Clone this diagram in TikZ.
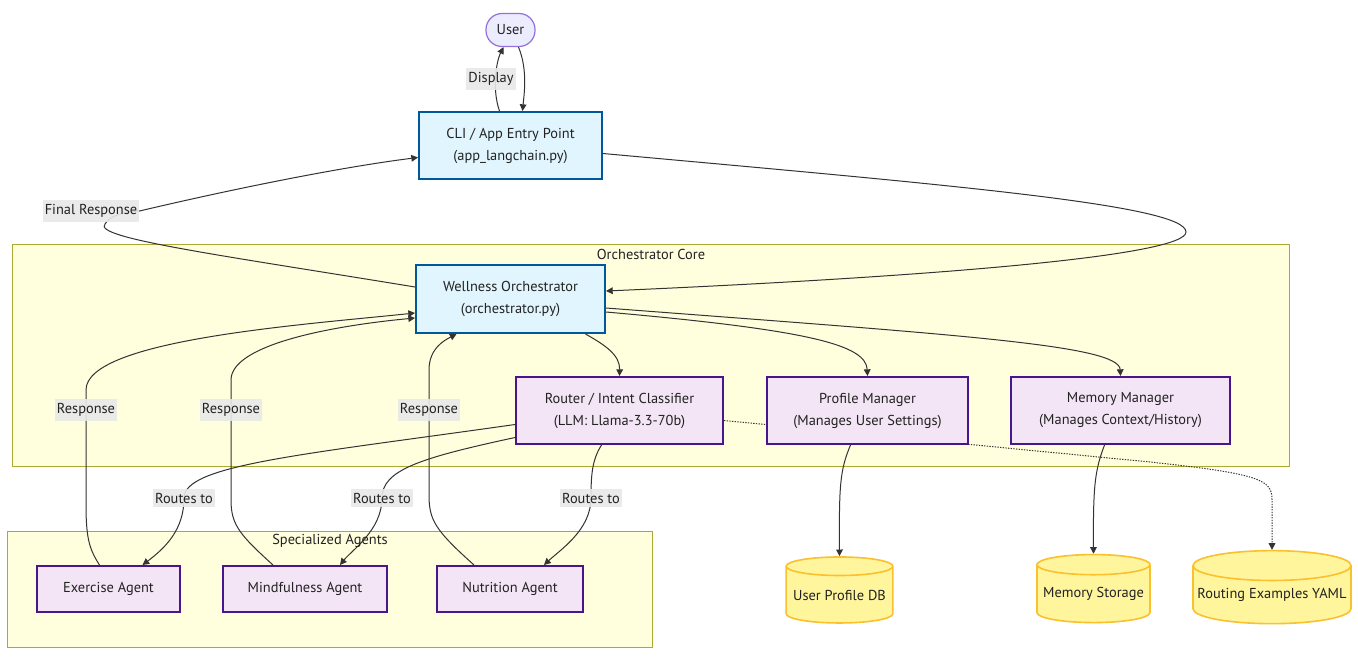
\documentclass[tikz,border=0pt]{standalone}
\usepackage{fontspec}
\setmainfont{PT Sans}
\usetikzlibrary{arrows.meta,shapes.geometric,calc}
\definecolor{bluefill}{HTML}{E1F5FE}
\definecolor{bluedraw}{HTML}{01579B}
\definecolor{purfill}{HTML}{F3E5F5}
\definecolor{purdraw}{HTML}{4A148C}
\definecolor{userfill}{HTML}{ECECFF}
\definecolor{userdraw}{HTML}{9370DB}
\definecolor{subfill}{HTML}{FFFFDE}
\definecolor{subdraw}{HTML}{AAAA33}
\definecolor{dbfill}{HTML}{FFF59D}
\definecolor{dbdraw}{HTML}{FBC02D}
\definecolor{edgecol}{HTML}{333333}
\definecolor{lblfill}{HTML}{E8E8E8}
\definecolor{txt}{HTML}{222222}
\pgfdeclarelayer{bg}
\pgfdeclarelayer{edgelayer}
\pgfsetlayers{bg,edgelayer,main}
\tikzset{
  bluebox/.style={draw=bluedraw, fill=bluefill, line width=1.5pt, align=center, text=txt, inner sep=0pt},
  purbox/.style={draw=purdraw, fill=purfill, line width=1.5pt, align=center, text=txt, inner sep=0pt},
  userbox/.style={draw=userdraw, fill=userfill, line width=0.9pt, rounded corners=12pt, text=txt, inner sep=0pt},
  dbnode/.style={cylinder, shape border rotate=90, aspect=0.2, draw=dbdraw, fill=dbfill, line width=1.2pt, text=txt, inner sep=0pt},
  lbl/.style={fill=lblfill, fill opacity=0.9, text opacity=1, inner xsep=1.5pt, inner ysep=3pt, text=txt},
  subg/.style={draw=subdraw, fill=subfill, line width=0.75pt, inner sep=0pt},
  subtitle/.style={text=txt, inner sep=0pt},
  conn/.style={draw=edgecol, line width=0.75pt, -{Triangle[length=5pt,width=5pt]}},
  dotconn/.style={conn, dash pattern=on 1pt off 1pt}
}
\begin{document}
\begin{tikzpicture}[x=0.75pt,y=-0.75pt, font=\fontsize{10.8}{16.5}\selectfont]
\begin{pgfonlayer}{bg}
\fill[white] (0,0) rectangle (1358,661);
\end{pgfonlayer}
\useasboundingbox (0,0) rectangle (1358,661);

% subgraphs
\begin{pgfonlayer}{bg}
\node[subg, minimum width=957.75pt, minimum height=166.5pt] (core) at (650.5,355) {};
\node[subg, minimum width=483.75pt, minimum height=87pt] (spec) at (329.5,589) {};
\end{pgfonlayer}
\node[subtitle] (coret) at (651,254) {Orchestrator Core};
\node[subtitle] (spect) at (330,541) {Specialized Agents};

% nodes
\node[userbox, minimum width=36.75pt, minimum height=24.75pt] (user) at (510.5,30) {User};
\node[bluebox, minimum width=137.25pt, minimum height=50.25pt] (cli) at (510.5,145.5) {CLI / App Entry Point\\(app\_langchain.py)};
\node[bluebox, minimum width=141.75pt, minimum height=51pt] (orch) at (510.5,299) {Wellness Orchestrator\\(orchestrator.py)};
\node[purbox, minimum width=155.25pt, minimum height=50.25pt] (router) at (619.5,410.5) {Router / Intent Classifier\\(LLM: Llama-3.3-70b)};
\node[purbox, minimum width=150.75pt, minimum height=50.25pt] (profile) at (867.5,410.5) {Profile Manager\\(Manages User Settings)};
\node[purbox, minimum width=164.25pt, minimum height=50.25pt] (memory) at (1120.5,410.5) {Memory Manager\\(Manages Context/History)};
\node[purbox, minimum width=107.25pt, minimum height=34.5pt] (ex) at (108.5,589) {Exercise Agent};
\node[purbox, minimum width=123pt, minimum height=34.5pt] (mind) at (305,589) {Mindfulness Agent};
\node[purbox, minimum width=109.5pt, minimum height=34.5pt] (nut) at (510,589) {Nutrition Agent};
\node[dbnode, minimum width=80pt, minimum height=49.5pt] (updb) at (839.5,595) {User Profile DB};
\node[dbnode, minimum width=84.75pt, minimum height=51pt] (ms) at (1093.5,594) {Memory Storage};
\node[dbnode, minimum width=118.5pt, minimum height=54.75pt] (yaml) at (1272,595) {Routing Examples YAML};

% labels
\node[lbl] (disp) at (491,79) {Display};
\node[lbl] (fr) at (91,211) {Final Response};
\node[lbl] (rt1) at (184,498) {Routes to};
\node[lbl] (rt2) at (382,498) {Routes to};
\node[lbl] (rt3) at (591,498) {Routes to};
\node[lbl] (rs1) at (86,410) {Response};
\node[lbl] (rs2) at (231,410) {Response};
\node[lbl] (rs3) at (429,410) {Response};

\begin{pgfonlayer}{edgelayer}
% user <-> cli
\draw[conn] ($(cli.north)+(-11,0)$) .. controls (492,90) and (496,62) .. ($(user.south)+(-7,0)$);
\draw[conn] ($(user.south)+(8,0)$) .. controls (528,70) and (524,95) .. ($(cli.north)+(12,0)$);
% final response
\draw[conn] ($(orch.west)+(0,-12)$) .. controls (220,255) and (92,238) .. (105,224)
  .. controls (110,216) and (122,212) .. (fr.east)
  .. controls (250,185) and (350,166) .. ($(cli.west)+(0,12)$);
% cli -> orch loop
\draw[conn] ($(cli.east)+(0,8)$) .. controls (950,185) and (1186,205) .. (1186,232)
  .. controls (1186,255) and (950,276) .. ($(orch.east)+(0,-8)$);
% orch -> managers
\draw[conn] ($(orch.south)+(75,0)$) .. controls (605,345) and (620,355) .. (router.north);
\draw[conn] ($(orch.east)+(0,13)$) .. controls (810,330) and (866,345) .. (profile.north);
\draw[conn] ($(orch.east)+(0,9)$) .. controls (960,335) and (1119,345) .. (memory.north);
% router -> agents
\draw[conn] ($(router.west)+(0,14)$) .. controls (300,455) and (184,465) .. (rt1.center)
  .. controls (184,530) and (165,548) .. ($(ex.north)+(34,0)$);
\draw[conn] ($(router.west)+(0,27)$) .. controls (420,458) and (382,470) .. (rt2.center)
  .. controls (382,530) and (352,550) .. ($(mind.north)+(35,0)$);
\draw[conn] ($(router.south)+(-18,0)$) .. controls (592,460) and (591,475) .. (rt3.center)
  .. controls (591,530) and (560,550) .. ($(nut.north)+(34,0)$);
% responses
\draw[conn] ($(ex.north)+(-9,0)$) .. controls (90,550) and (86,540) .. (86,505) -- (rs1.center) -- (86,390)
  .. controls (86,340) and (300,325) .. ($(orch.west)+(0,14)$);
\draw[conn] ($(mind.north)+(-32,0)$) .. controls (240,535) and (231,525) .. (231,500) -- (rs2.center) -- (231,380)
  .. controls (231,345) and (330,326) .. ($(orch.west)+(0,19)$);
\draw[conn] ($(nut.north)+(-36,0)$) .. controls (435,530) and (429,520) .. (429,495) -- (rs3.center) -- (429,370)
  .. controls (429,348) and (445,340) .. ($(orch.south)+(-54,0)$);
% managers -> storage
\draw[conn] ($(profile.south)+(-17,0)$) .. controls (840,470) and (839,485) .. (updb.north);
\draw[conn] ($(memory.south)+(-16,0)$) .. controls (1095,470) and (1093,485) .. (ms.north);
% router -> yaml (dotted)
\draw[dotconn] ($(router.east)+(0,10)$) -- (1150,462) .. controls (1262,474) and (1272,480) .. (1272,500) -- (yaml.north);
\end{pgfonlayer}
\end{tikzpicture}
\end{document}
